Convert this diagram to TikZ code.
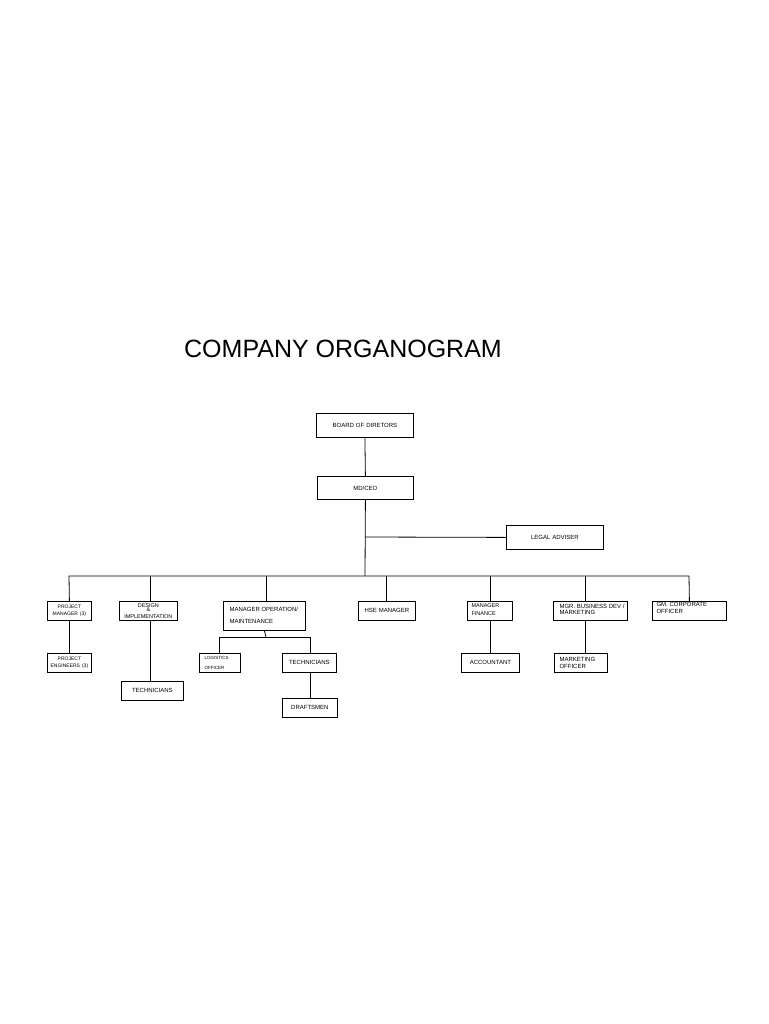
\documentclass[tikz,border=0pt]{standalone}
\usepackage{fontspec}
\setmainfont{Liberation Sans}
\begin{document}
\begin{tikzpicture}[x=1pt,y=-1pt,
  bx/.style={draw,line width=0.8pt,inner sep=0pt,font=\fontsize{6}{7}\selectfont,align=left},
  ln/.style={line width=0.8pt}]
\useasboundingbox (0,0) rectangle (768,1024);
\node[font=\fontsize{25}{28}\selectfont] (title) at (343,349) {COMPANY ORGANOGRAM};
\newcommand{\bxat}[6]{\node[bx,minimum width=#4-#2,minimum height=#5-#3,anchor=north west,text width=#4-#2-4,align=center] (#1) at (#2,#3) {#6};}
\bxat{board}{316}{413}{413}{437}{BOARD OF DIRETORS}
\bxat{md}{317}{476}{413}{499}{MD/CEO}
\bxat{legal}{506}{525}{603}{549}{LEGAL ADVISER}
\bxat{pm}{47}{601}{91}{620}{\fontsize{5}{6}\selectfont PROJECT\\MANAGER (3)}
\bxat{pe}{47}{653}{91}{672}{\fontsize{5}{6}\selectfont PROJECT\\ENGINEERS (3)}
\bxat{des}{119}{601}{177}{620}{\fontsize{5.5}{4}\selectfont DESIGN\\\&\\IMPLEMENTATION}
\bxat{tech1}{121}{681}{183}{700}{TECHNICIANS}
\node[bx,minimum width=82,minimum height=29,anchor=north west] (mo) at (223,601) {};
\node[font=\fontsize{6}{12}\selectfont,align=left,anchor=west] at (226,615.5) {MANAGER OPERATION/\\MAINTENANCE};
\node[bx,minimum width=41,minimum height=19,anchor=north west] (log) at (199,653) {};
\node[font=\fontsize{4.5}{10}\selectfont,align=left,anchor=west] at (201,662.5) {LOGISTICS\\OFFICER};
\bxat{tech2}{282}{653}{336}{672}{TECHNICIANS}
\bxat{draft}{282}{698}{337}{717}{DRAFTSMEN}
\bxat{hse}{358}{601}{415}{620}{HSE MANAGER}
\node[bx,minimum width=45,minimum height=19,anchor=north west] (mf) at (467,601) {};
\node[font=\fontsize{5.5}{8}\selectfont,align=left,anchor=west] at (468,610) {MANAGER\\FINANCE};
\bxat{acc}{461}{653}{519}{672}{ACCOUNTANT}
\node[bx,minimum width=74,minimum height=19,anchor=north west] (mbd) at (553,601) {};
\node[font=\fontsize{6}{6}\selectfont,align=left,anchor=west] at (556,609) {MGR. BUSINESS DEV /\\MARKETING};
\node[bx,minimum width=53,minimum height=19,anchor=north west] (mkt) at (554,653) {};
\node[font=\fontsize{6}{7}\selectfont,align=left,anchor=west] at (556,662.5) {MARKETING\\OFFICER};
\node[bx,minimum width=74,minimum height=19,anchor=north west] (gm) at (652,601) {};
\node[font=\fontsize{6}{7}\selectfont,align=left,anchor=west] at (653,608) {GM. CORPORATE\\OFFICER};
\coordinate (bus) at (365,576);
\coordinate (sub) at (266,637);
\draw[ln] (board.south) -- (md.north);
\draw[ln] (md.south) -- (bus);
\draw[ln] (legal.west) -- (365,537);
\draw[ln] (pm.north) -- (69,576) -- (689,576) -- (gm.north);
\foreach \n/\xx in {des/150,mo/266,hse/386,mf/490,mbd/585}
  \draw[ln] (\xx,576) -- (\n.north -| \xx,0);
\draw[ln] (pm.south) -- (pe.north);
\draw[ln] (150,620) -- (tech1.north -| 150,0);
\draw[ln] (mo.south) -- (sub);
\draw[ln] (log.north -| 219,0) -- (219,637) -- (310,637) -- (tech2.north -| 310,0);
\draw[ln] (tech2.south -| 310,0) -- (draft.north -| 310,0);
\draw[ln] (mf.south -| 490,0) -- (acc.north -| 490,0);
\draw[ln] (mbd.south -| 585,0) -- (mkt.north -| 585,0);
\end{tikzpicture}
\end{document}
